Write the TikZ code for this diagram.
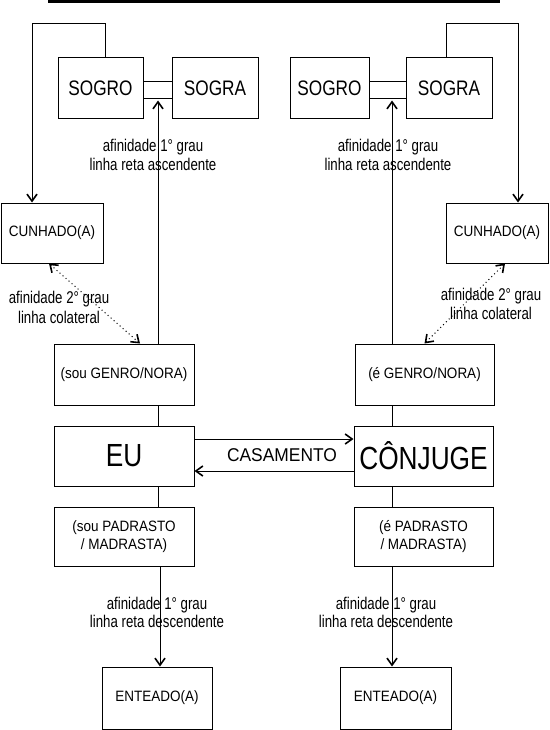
\documentclass[tikz,border=0pt]{standalone}
\usepackage{fontspec}
\setmainfont{Liberation Sans}
\newfontfamily\fontecaixa[FakeStretch=0.9]{Liberation Sans}
\newfontfamily\fonterotulo[FakeStretch=0.78]{Liberation Sans}
\newfontfamily\fontegrande[FakeStretch=0.82]{Liberation Sans}
\newfontfamily\fontecasam[FakeStretch=0.94]{Liberation Sans}
\usetikzlibrary{arrows.meta}
\tikzset{
  caixa/.style={draw, line width=1pt, inner sep=0pt, align=center, font=\fontecaixa\fontsize{15}{18}\selectfont},
  caixasogro/.style={caixa, minimum height=61, font=\fontegrande\fontsize{21}{24}\selectfont},
  caixagrande/.style={caixa, minimum height=60, font=\fontegrande\fontsize{32}{34}\selectfont},
  rotulo/.style={inner sep=0pt, align=center, font=\fonterotulo\fontsize{17}{18.5}\selectfont},
  ponta/.tip={Straight Barb[length=7pt,width=10pt,line width=1.6pt]},
  seta/.style={line width=1pt, -ponta},
  setadupla/.style={line width=1pt, dash pattern=on 1pt off 3pt, ponta-ponta},
}
\begin{document}
\begin{tikzpicture}[x=1pt, y=-1pt, line width=1pt]
	\useasboundingbox (0,0) rectangle (549,730);
	% barra do titulo
	\draw [line width=3pt] (48,1.5) -- (500,1.5);
	% sogros
	\node [caixasogro, minimum width=85] (sogroL) at (100.5,88.5) {SOGRO};
	\node [caixasogro, minimum width=86] (sograL) at (215,88.5) {SOGRA};
	\node [caixasogro, minimum width=79] (sogroR) at (329.5,88.5) {SOGRO};
	\node [caixasogro, minimum width=86] (sograR) at (449,88.5) {SOGRA};
	\draw ([yshift=6.5pt]sogroL.east) -- ([yshift=6.5pt]sograL.west);
	\draw ([yshift=-10.5pt]sogroL.east) -- ([yshift=-10.5pt]sograL.west);
	\draw ([yshift=6.5pt]sogroR.east) -- ([yshift=6.5pt]sograR.west);
	\draw ([yshift=-10.5pt]sogroR.east) -- ([yshift=-10.5pt]sograR.west);
	% cunhados
	\node [caixa, minimum width=102, minimum height=60] (cunhL) at (52,233) {CUNHADO(A)};
	\node [caixa, minimum width=102, minimum height=60] (cunhR) at (497,233) {CUNHADO(A)};
	\coordinate (voltaL) at (32,24);
	\coordinate (voltaR) at (518,24);
	\draw [seta] ([xshift=4.5pt]sogroL.north) |- (voltaL) -- (voltaL |- cunhL.north);
	\draw [seta] ([xshift=-3pt]sograR.north) |- (voltaR) -- (voltaR |- cunhR.north);
	% genro / nora
	\node [caixa, minimum width=140, minimum height=61] (genroL) at (124,374.5) {(sou GENRO/NORA)};
	\node [caixa, minimum width=139, minimum height=61] (genroR) at (424.5,374.5) {(é GENRO/NORA)};
	\coordinate (eixoL) at (158,100.5);
	\coordinate (eixoR) at (392,100.5);
	\draw [seta] (genroL.north -| eixoL) -- (eixoL);
	\draw [seta] (genroR.north -| eixoR) -- (eixoR);
	\node [rotulo] (ascL) at (153,155) {afinidade 1° grau\\linha reta ascendente};
	\node [rotulo] (ascR) at (388,155) {afinidade 1° grau\\linha reta ascendente};
	\draw [setadupla] ([xshift=-3pt]cunhL.south) -- ([xshift=16pt]genroL.north);
	\draw [setadupla] ([xshift=8pt]cunhR.south) -- (genroR.north);
	\node [rotulo, font=\fonterotulo\fontsize{17}{20}\selectfont] (colL) at (59,307) {afinidade 2° grau\\linha colateral};
	\node [rotulo, font=\fonterotulo\fontsize{17}{19}\selectfont] (colR) at (491,304) {afinidade 2° grau\\linha colateral};
	% casamento
	\node [caixagrande, minimum width=140] (eu) at (124,456) {EU};
	\node [caixagrande, minimum width=139] (conj) at (423.5,456) {CÔNJUGE};
	\draw [seta] ([yshift=17pt]eu.east) -- ([yshift=17pt]conj.west);
	\draw [seta] ([yshift=-15pt]conj.west) -- ([yshift=-15pt]eu.east);
	\node [inner sep=0pt, font=\fontecasam\fontsize{18.5}{20}\selectfont] (casam) at (282,455) {CASAMENTO};
	\draw (genroL.south -| eixoL) -- (eu.north -| eixoL);
	\draw (genroR.south -| eixoR) -- (conj.north -| eixoR);
	% padrasto / madrasta
	\node [caixa, minimum width=140, minimum height=59] (padL) at (124,536.5) {(sou PADRASTO\\/ MADRASTA)};
	\node [caixa, minimum width=139, minimum height=59] (padR) at (423.5,536.5) {(é PADRASTO\\/ MADRASTA)};
	\draw (eu.south -| eixoL) -- (padL.north -| eixoL);
	\draw (conj.south -| eixoR) -- (padR.north -| eixoR);
	% enteados
	\node [caixa, minimum width=110, minimum height=62] (entL) at (157,698) {ENTEADO(A)};
	\node [caixa, minimum width=111, minimum height=62] (entR) at (395.5,698) {ENTEADO(A)};
	\draw [seta] ([xshift=2pt]padL.south -| eixoL) -- ([xshift=2pt]entL.north -| eixoL);
	\draw [seta] (padR.south -| eixoR) -- (entR.north -| eixoR);
	\node [rotulo] (descL) at (157,612.5) {afinidade 1° grau\\linha reta descendente};
	\node [rotulo] (descR) at (386,612.5) {afinidade 1° grau\\linha reta descendente};
\end{tikzpicture}
\end{document}
